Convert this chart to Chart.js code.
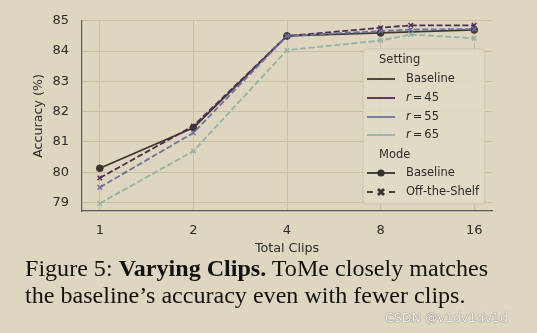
<!DOCTYPE html>
<html>
<head>
<meta charset="utf-8">
<script src="https://cdn.jsdelivr.net/npm/chart.js@4"></script>
<style>
  html, body { margin: 0; padding: 0; background: #ded6be; }
  body { width: 537px; height: 333px; position: relative; overflow: hidden; }
  #wrap { position: absolute; left: 0; top: 0; width: 537px; height: 260px; }
  #caption {
    position: absolute; left: 25px; top: 255px;
    font-family: "Liberation Serif", serif; font-size: 22.5px; line-height: 27px;
    color: #111; white-space: nowrap;
    transform: scaleX(1.07); transform-origin: 0 0;
  }
  #mark {
    position: absolute; left: 385px; top: 310px;
    font-family: "DejaVu Sans", sans-serif; font-size: 12.6px; color: #f6f4ee;
    text-shadow: 0 0 1px rgba(90,90,90,0.9), 0 0 1px rgba(90,90,90,0.6);
  }
</style>
</head>
<body>
<div id="wrap"><canvas id="c" width="537" height="260"></canvas></div>
<div id="caption">Figure 5: <b>Varying Clips.</b> ToMe closely matches<br>the baseline’s accuracy even with fewer clips.</div>
<div id="mark">CSDN @v1dv1dv1d</div>
<script>
// Accuracy (%) versus number of clips
const clipTicks = [1, 2, 4, 8, 16];
const accTicks = [79, 80, 81, 82, 83, 84, 85];

const clipsBaseline = [1, 2, 4, 8, 16];
const accBaseline = [80.13, 81.47, 84.5, 84.6, 84.7];

const clipsToMe = [1, 2, 4, 8, 10, 16];
const accR45 = [79.81, 81.53, 84.5, 84.77, 84.85, 84.85];
const accR55 = [79.5, 81.3, 84.5, 84.66, 84.71, 84.73];
const accR65 = [78.97, 80.7, 84.03, 84.35, 84.55, 84.42];

const settingNames = ['Baseline', '45', '55', '65'];
const settingColors = ['#3b3834', '#4f2c52', '#6e72a0', '#93b3aa'];

const pts = (xs, ys) => xs.map((x, i) => ({ x: x, y: ys[i] }));

const FONT = '"DejaVu Sans", sans-serif';
const TEXT = '#2b2b2b';

function series(label, xs, ys, color, offShelf, order) {
  return {
    label: label,
    data: pts(xs, ys),
    borderColor: color,
    backgroundColor: color,
    borderWidth: 1.8,
    borderDash: offShelf ? [6, 2.6] : [],
    pointStyle: offShelf ? 'crossRot' : 'circle',
    pointRadius: offShelf ? 3.2 : 3.4,
    pointBorderWidth: offShelf ? 1.4 : 1,
    pointBackgroundColor: color,
    pointBorderColor: color,
    tension: 0,
    order: order
  };
}

// Legend with two titled sections: line colour (Setting) and style (Mode)
const legendPlugin = {
  id: 'sectionLegend',
  afterDraw(chart) {
    const ctx = chart.ctx;
    ctx.save();
    const bx = 363, by = 49, bw = 122, bh = 155, r = 3;
    ctx.beginPath();
    ctx.moveTo(bx + r, by);
    ctx.arcTo(bx + bw, by, bx + bw, by + bh, r);
    ctx.arcTo(bx + bw, by + bh, bx, by + bh, r);
    ctx.arcTo(bx, by + bh, bx, by, r);
    ctx.arcTo(bx, by, bx + bw, by, r);
    ctx.closePath();
    ctx.fillStyle = 'rgba(226,219,199,0.85)';
    ctx.fill();
    ctx.strokeStyle = '#cbc3aa';
    ctx.lineWidth = 1;
    ctx.stroke();

    ctx.font = '11.5px ' + FONT;
    ctx.textBaseline = 'middle';
    ctx.fillStyle = TEXT;
    const x0 = 367, x1 = 395, tx = 406;
    const rows = [60, 79, 98, 117, 135, 155, 173, 192];

    ctx.fillText('Setting', 379, rows[0]);
    settingNames.forEach((name, i) => {
      const y = rows[i + 1];
      ctx.strokeStyle = settingColors[i];
      ctx.lineWidth = 1.8;
      ctx.setLineDash([]);
      ctx.beginPath(); ctx.moveTo(x0, y); ctx.lineTo(x1, y); ctx.stroke();
      ctx.fillStyle = TEXT;
      if (i === 0) {
        ctx.fillText(name, tx, y);
      } else {
        ctx.font = 'italic 11.5px ' + FONT;
        ctx.fillText('r', tx, y);
        const rw = ctx.measureText('r').width;
        ctx.font = '11.5px ' + FONT;
        ctx.fillText('=', tx + rw + 2, y);
        const ew = ctx.measureText('=').width;
        ctx.fillText(name, tx + rw + ew + 4, y);
      }
    });

    ctx.fillStyle = TEXT;
    ctx.fillText('Mode', 379, rows[5]);
    const mc = '#333230';
    // Baseline mode: solid line with a dot
    let y = rows[6];
    ctx.strokeStyle = mc; ctx.lineWidth = 1.8; ctx.setLineDash([]);
    ctx.beginPath(); ctx.moveTo(x0, y); ctx.lineTo(x1, y); ctx.stroke();
    ctx.fillStyle = mc;
    ctx.beginPath(); ctx.arc(381, y, 3.6, 0, Math.PI * 2); ctx.fill();
    ctx.fillStyle = TEXT;
    ctx.fillText('Baseline', tx, y);
    // Off-the-shelf mode: dashed line with a filled X
    y = rows[7];
    ctx.beginPath(); ctx.moveTo(x0, y); ctx.lineTo(x0 + 6, y); ctx.stroke();
    ctx.beginPath(); ctx.moveTo(x1 - 6, y); ctx.lineTo(x1, y); ctx.stroke();
    ctx.lineWidth = 2.8;
    ctx.beginPath();
    ctx.moveTo(378, y - 3); ctx.lineTo(384, y + 3);
    ctx.moveTo(384, y - 3); ctx.lineTo(378, y + 3);
    ctx.stroke();
    ctx.fillStyle = TEXT;
    ctx.fillText('Off-the-Shelf', tx, y);
    ctx.restore();
  }
};

new Chart(document.getElementById('c'), {
  type: 'line',
  data: {
    datasets: [
      series('Baseline', clipsBaseline, accBaseline, settingColors[0], false, 4),
      series('r = 45', clipsToMe, accR45, settingColors[1], true, 3),
      series('r = 55', clipsToMe, accR55, settingColors[2], true, 2),
      series('r = 65', clipsToMe, accR65, settingColors[3], true, 1)
    ]
  },
  options: {
    responsive: false,
    animation: false,
    layout: { padding: { top: 11, right: 45, left: 0, bottom: 0 } },
    plugins: { legend: { display: false }, tooltip: { enabled: false } },
    scales: {
      x: {
        type: 'logarithmic',
        min: Math.pow(2, -0.19),
        max: Math.pow(2, 4.19),
        afterBuildTicks: (s) => { s.ticks = clipTicks.map(v => ({ value: v })); },
        afterFit: (s) => { s.height = 49; },
        ticks: {
          autoSkip: false, maxRotation: 0, padding: 12,
          color: TEXT, font: { family: FONT, size: 13 },
          callback: (v) => String(v)
        },
        grid: { color: '#c8bfa4', lineWidth: 1, drawTicks: false },
        border: { display: true, color: '#5b5852', width: 1.2 },
        title: {
          display: true, text: 'Total Clips', color: TEXT,
          font: { family: FONT, size: 12.7 }, padding: { top: 0, bottom: 4 }
        }
      },
      y: {
        type: 'linear',
        min: 78.72,
        max: 85,
        afterBuildTicks: (s) => { s.ticks = accTicks.map(v => ({ value: v })); },
        afterFit: (s) => { s.width = 82; },
        ticks: {
          padding: 13, color: TEXT, font: { family: FONT, size: 13 },
          callback: (v) => String(v)
        },
        grid: { color: '#c8bfa4', lineWidth: 1, drawTicks: false },
        border: { display: true, color: '#5b5852', width: 1.2 },
        title: {
          display: true, text: 'Accuracy (%)', color: TEXT,
          font: { family: FONT, size: 12.7 }, padding: { top: 31, bottom: 0 }
        }
      }
    }
  },
  plugins: [legendPlugin]
});
</script>
</body>
</html>
